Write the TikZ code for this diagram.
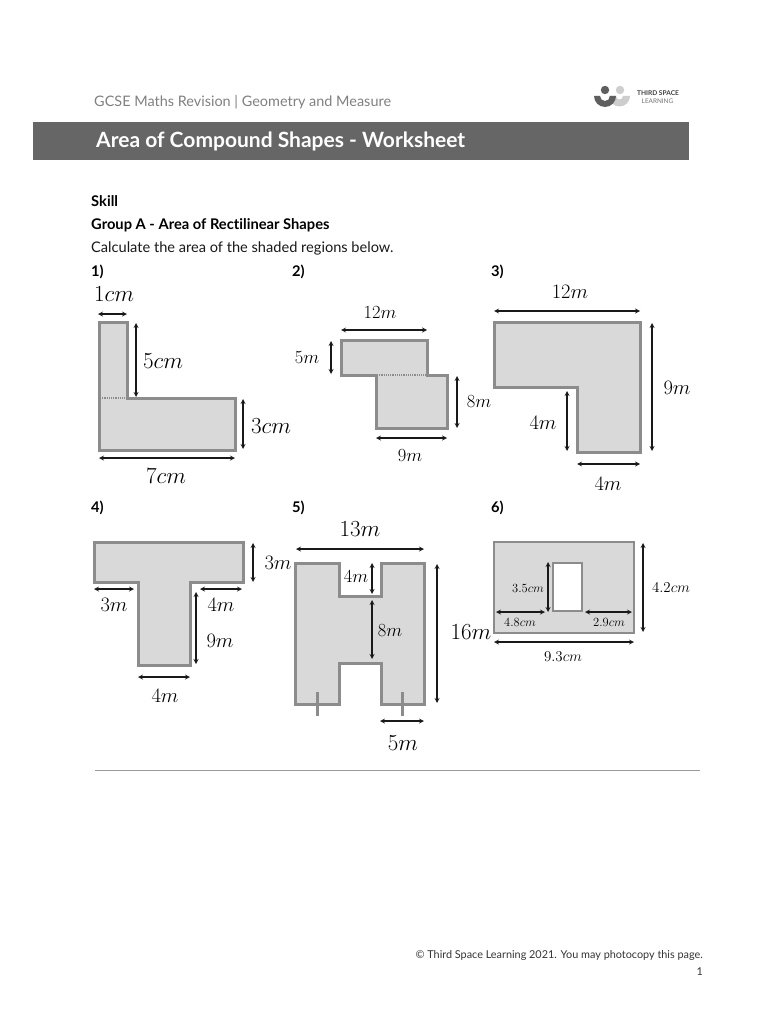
\documentclass[tikz,border=0pt]{standalone}
\usepackage{fix-cm}
\usepackage{fontspec}
\setmainfont[Ligatures=NoCommon]{Lato}
\usepackage{xcolor}
\definecolor{bannergray}{RGB}{102, 102, 102}
\definecolor{headgray}{RGB}{128, 128, 128}
\definecolor{shapefill}{RGB}{217, 217, 217}
\definecolor{shapeline}{RGB}{140, 140, 140}
\definecolor{logolight}{RGB}{205, 205, 205}
\definecolor{logodark}{RGB}{95, 95, 95}
\usetikzlibrary{arrows}

\begin{document}
\begin{tikzpicture}[
        x=1pt, y=-1pt,
        every node/.style={inner sep=0pt},
        region/.style={draw=shapeline, fill=shapefill, line width=3pt, line join=miter},
        seam/.style={draw=shapeline, densely dotted, line width=1.2pt},
        tick/.style={draw=shapeline, line width=3pt},
        arrow/.style={line width=1.2pt,<->,>=stealth,color=black!90},
        head/.style={anchor=west, font=\fontsize{14.45}{17}\selectfont, text=headgray},
        body/.style={anchor=west, font=\fontsize{14.6}{17}\selectfont, text=black!90},
        strong/.style={anchor=west, font=\fontsize{14.7}{17}\selectfont\bfseries},
        foot/.style={anchor=east, font=\fontsize{10.85}{12}\selectfont, text=black!80},
        dimxl/.style={font=\fontsize{23}{26}\selectfont, text=black},
        dimlg/.style={font=\fontsize{20.5}{24}\selectfont, text=black},
        dimmd/.style={font=\fontsize{18.5}{22}\selectfont, text=black},
        dimsm/.style={font=\fontsize{15}{18}\selectfont, text=black},
        dimxs/.style={font=\fontsize{12.5}{15}\selectfont, text=black}
    ]
        \useasboundingbox (0,0) rectangle (768,1024);

        \node[head] (subject) at (94,102) {GCSE Maths Revision | Geometry and Measure};
        \fill[logolight] (609,96) arc (180:0:10.5) -- (623,96) arc (0:180:3.5) -- cycle;
        \fill[logodark] (594,96) arc (180:0:11) -- (610,96) arc (0:180:5) -- cycle;
        \fill[logodark] (605,90) circle (4.2);
        \fill[logolight] (620,90) circle (4.2);
        \node[font=\fontsize{6.6}{7}\selectfont\bfseries, text=black!75] (logotop) at (658,93) {THIRD SPACE};
        \node[font=\fontsize{6.4}{7}\selectfont, text=black!55] (logobottom) at (657.5,101) {LEARNING};

        \fill[bannergray] (33,122) rectangle (689,160);
        \node[anchor=west, font=\fontsize{21}{24}\selectfont\bfseries, text=white] (title) at (96,141) {Area of Compound Shapes - Worksheet};

        \node[strong] (skill) at (91,201) {Skill};
        \node[strong] (group) at (91,225) {Group A - Area of Rectilinear Shapes};
        \node[body] (task) at (91,248) {Calculate the area of the shaded regions below.};
        \node[strong] (q1) at (91,272) {1)};
        \node[strong] (q2) at (292,272) {2)};
        \node[strong] (q3) at (491,272) {3)};
        \node[strong] (q4) at (91,508) {4)};
        \node[strong] (q5) at (292,508) {5)};
        \node[strong] (q6) at (491,508) {6)};

        \draw[region] (99,322) -- (127,322) -- (127,398) -- (235,398) -- (235,450) -- (99,450) -- cycle;
        \draw[seam] (100,398) -- (126,398);
        \draw[arrow] (98,314) -- (127,314);
        \draw[arrow] (136,323) -- (136,397);
        \draw[arrow] (243,399) -- (243,449);
        \draw[arrow] (99,458) -- (235,458);
        \node[dimxl] (l1a) at (114,294) {$1cm$};
        \node[dimxl] (l1b) at (163,361) {$5cm$};
        \node[dimxl] (l1c) at (271,426) {$3cm$};
        \node[dimxl] (l1d) at (166,476) {$7cm$};

        \draw[region] (341,340) -- (427,340) -- (427,375) -- (447,375) -- (447,428) -- (376,428) -- (376,375) -- (341,375) -- cycle;
        \draw[seam] (377,375) -- (426,375);
        \draw[arrow] (341,330) -- (427,330);
        \draw[arrow] (331,341) -- (331,374);
        \draw[arrow] (457,376) -- (457,428);
        \draw[arrow] (376,438) -- (447,438);
        \node[dimmd] (l2a) at (380,313) {$12m$};
        \node[dimmd] (l2b) at (307,358) {$5m$};
        \node[dimmd] (l2c) at (479,402) {$8m$};
        \node[dimmd] (l2d) at (410,456) {$9m$};

        \draw[region] (494,322) -- (640,322) -- (640,452) -- (577,452) -- (577,387) -- (494,387) -- cycle;
        \draw[arrow] (494,311) -- (640,311);
        \draw[arrow] (652,323) -- (652,451);
        \draw[arrow] (567,391) -- (567,451);
        \draw[arrow] (577,464) -- (640,464);
        \node[dimlg] (l3a) at (570,292) {$12m$};
        \node[dimlg] (l3b) at (677,388) {$9m$};
        \node[dimlg] (l3c) at (543,423) {$4m$};
        \node[dimlg] (l3d) at (608,484) {$4m$};

        \draw[region] (94,542) -- (243,542) -- (243,582) -- (190,582) -- (190,665) -- (138,665) -- (138,582) -- (94,582) -- cycle;
        \draw[arrow] (253,543) -- (253,582);
        \draw[arrow] (94,589) -- (134,589);
        \draw[arrow] (200,589) -- (242,589);
        \draw[arrow] (196,592) -- (196,664);
        \draw[arrow] (138,677) -- (190,677);
        \node[dimlg] (l4a) at (278,563) {$3m$};
        \node[dimlg] (l4b) at (114,605) {$3m$};
        \node[dimlg] (l4c) at (221,605) {$4m$};
        \node[dimlg] (l4d) at (220,641) {$9m$};
        \node[dimlg] (l4e) at (165,696) {$4m$};

        \draw[region] (295,563) -- (339,563) -- (339,596) -- (381,596) -- (381,563) -- (424,563) -- (424,704) -- (381,704) -- (381,663) -- (339,663) -- (339,704) -- (295,704) -- cycle;
        \draw[tick] (317,692) -- (317,716);
        \draw[tick] (402,692) -- (402,716);
        \draw[arrow] (296,549) -- (424,549);
        \draw[arrow] (372,563) -- (372,594);
        \draw[arrow] (372,600) -- (372,659);
        \draw[arrow] (437,564) -- (437,703);
        \draw[arrow] (380,721) -- (424,721);
        \node[dimxl] (l5a) at (360,529) {$13m$};
        \node[dimmd] (l5b) at (356,577) {$4m$};
        \node[dimmd] (l5c) at (390,631) {$8m$};
        \node[dimxl] (l5d) at (471,632) {$16m$};
        \node[dimxl] (l5e) at (403,743) {$5m$};

        \draw[region, line width=2.2pt] (494,542) rectangle (634,633);
        \draw[draw=shapeline, fill=white, line width=2.2pt] (553,563) rectangle (582,611);
        \draw[arrow] (548,562) -- (548,612);
        \draw[arrow] (496,612) -- (545,612);
        \draw[arrow] (585,612) -- (632,612);
        \draw[arrow] (643,543) -- (643,632);
        \draw[arrow] (494,642) -- (634,642);
        \node[dimxs] (l6a) at (528,588) {$3.5cm$};
        \node[dimxs] (l6b) at (520,622) {$4.8cm$};
        \node[dimxs] (l6c) at (609,622) {$2.9cm$};
        \node[dimsm] (l6d) at (671,588) {$4.2cm$};
        \node[dimsm] (l6e) at (563,657) {$9.3cm$};

        \draw[headgray!80, line width=0.8pt] (95,770) -- (700,770);
        \node[foot] (copyright) at (703,955) {© Third Space Learning 2021. You may photocopy this page.};
        \node[foot] (page) at (703,972) {1};

    \end{tikzpicture}
\end{document}
